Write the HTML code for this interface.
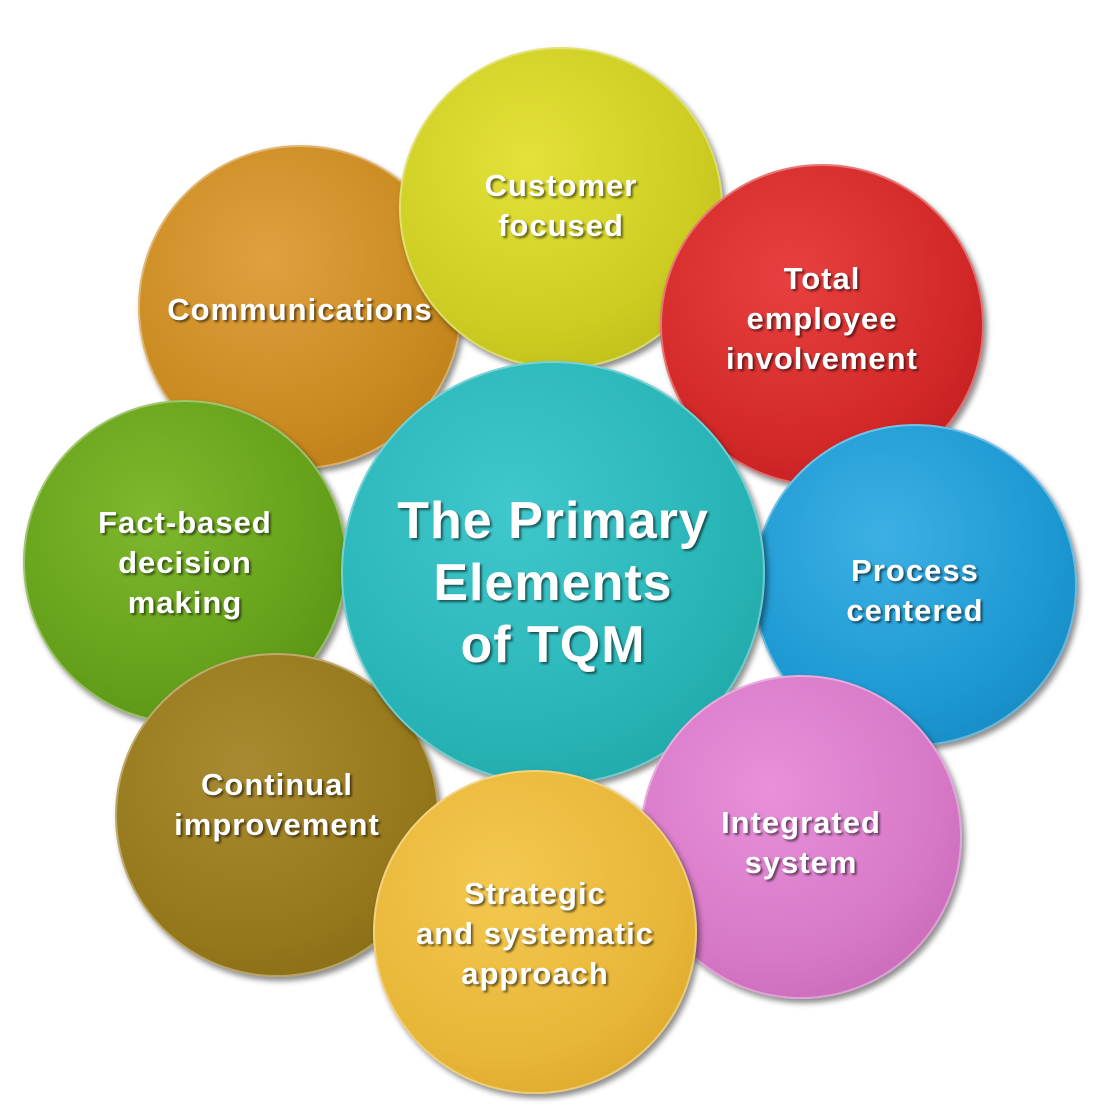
<!DOCTYPE html>
<html><head><style>
html,body{margin:0;padding:0;background:#fff;}
#w{position:relative;width:1120px;height:1120px;overflow:hidden;font-family:"Liberation Sans","DejaVu Sans",sans-serif;}
.c{position:absolute;border-radius:50%;display:flex;align-items:center;justify-content:center;text-align:center;color:#fff;font-weight:bold;font-size:31px;line-height:40px;text-shadow:2px 2px 2px rgba(0,0,0,.55);box-shadow:3px 4px 6px rgba(0,0,0,.45), inset 0 0 0 2px rgba(255,255,255,.35);letter-spacing:1px;}
.c span{display:block;}
</style></head><body><div id="w">
<div class="c" style="left:138px;top:145px;width:324px;height:324px;background:radial-gradient(circle at 40% 35%,#e0a040,#c98a20 60%,#b57515);"><span style="margin-top:6px">Communications</span></div>
<div class="c" style="left:23px;top:400px;width:324px;height:324px;background:radial-gradient(circle at 40% 35%,#7fb82e,#64a01a 60%,#4f8a10);"><span style="margin-top:2px">Fact-based<br>decision<br>making</span></div>
<div class="c" style="left:115px;top:653px;width:324px;height:324px;background:radial-gradient(circle at 40% 35%,#a88a30,#96781c 60%,#7e6410);"><span style="margin-top:-20px">Continual<br>improvement</span></div>
<div class="c" style="left:399px;top:47px;width:324px;height:322px;background:radial-gradient(circle at 40% 35%,#e4e23a,#cccc22 60%,#b8b414);"><span style="margin-top:-5px">Customer<br>focused</span></div>
<div class="c" style="left:660px;top:164px;width:324px;height:322px;background:radial-gradient(circle at 40% 35%,#e84040,#d22828 60%,#b81818);"><span style="margin-top:-12px">Total<br>employee<br>involvement</span></div>
<div class="c" style="left:753px;top:424px;width:324px;height:322px;background:radial-gradient(circle at 40% 35%,#3cb0e4,#1d98d2 60%,#1280b8);"><span style="margin-top:12px">Process<br>centered</span></div>
<div class="c" style="left:341px;top:361px;width:424px;height:424px;font-size:52px;line-height:62px;background:radial-gradient(circle at 40% 35%,#40c8cc,#28b4b6 60%,#1a9ea0);"><span style="margin-top:20px">The Primary<br>Elements<br>of TQM</span></div>
<div class="c" style="left:640px;top:675px;width:322px;height:324px;background:radial-gradient(circle at 40% 35%,#e890da,#d678c6 60%,#c060b0);"><span style="margin-top:12px">Integrated<br>system</span></div>
<div class="c" style="left:373px;top:770px;width:324px;height:324px;background:radial-gradient(circle at 40% 35%,#f4c850,#e8b638 60%,#d4a020);"><span style="margin-top:4px">Strategic<br>and systematic<br>approach</span></div>
</div></body></html>
